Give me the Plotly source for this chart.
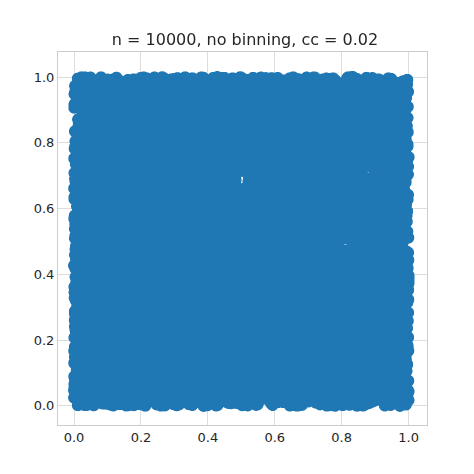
import numpy as np
import plotly.graph_objects as go

# n = 10000 uniformly distributed points (seeded sample; individual points cannot be read from the picture)
n = 10000
rng = np.random.default_rng(2)
x_vals = rng.random(n)
y_vals = rng.random(n)
x_ticks = [0.0, 0.2, 0.4, 0.6, 0.8, 1.0]
y_ticks = [0.0, 0.2, 0.4, 0.6, 0.8, 1.0]
title = "n = 10000, no binning, cc = 0.02"

fig = go.Figure(go.Scattergl(x=x_vals, y=y_vals, mode="markers",
                             marker=dict(color="#1f77b4", size=12, line=dict(width=0))))
axis = dict(showgrid=True, gridcolor="#dddddd", gridwidth=1, zeroline=False,
            showline=True, linecolor="#cccccc", mirror=True, ticks="",
            tickfont=dict(family="DejaVu Sans", size=13, color="#262626"),
            tickformat=".1f")
fig.update_layout(
    width=474, height=474,
    margin=dict(l=50, r=55, t=44, b=57),
    plot_bgcolor="white", paper_bgcolor="white",
    title=dict(text=title, x=0.5, xanchor="center", y=0.945,
               font=dict(family="DejaVu Sans", size=16, color="#262626")),
    showlegend=False,
    xaxis=dict(axis, range=[-0.048, 1.055], tickvals=x_ticks),
    yaxis=dict(axis, range=[-0.058, 1.076], tickvals=y_ticks),
)
fig.write_html("out.html")
